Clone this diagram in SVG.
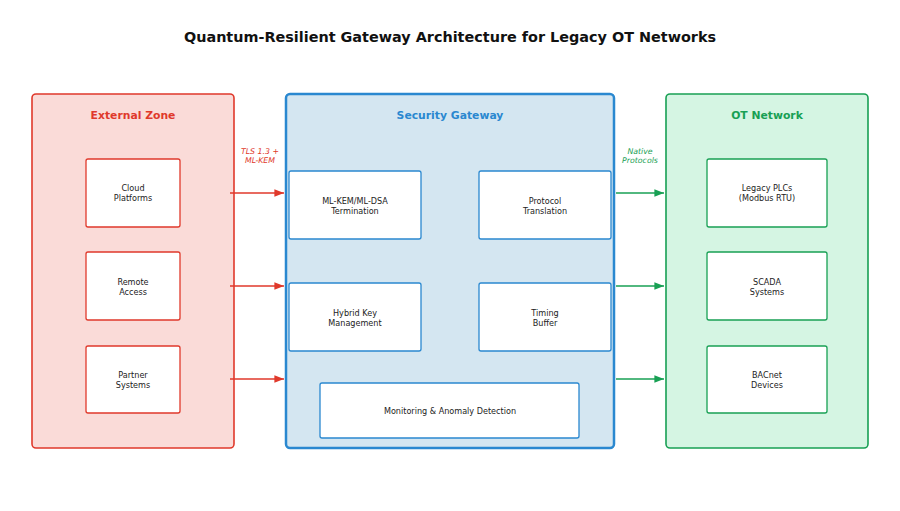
<svg xmlns="http://www.w3.org/2000/svg" width="900" height="511" viewBox="0 0 900 511">
<defs>
<style>
text{font-family:"DejaVu Sans",sans-serif;text-anchor:middle}
.title{font-size:14.4px;font-weight:bold;fill:#111}
.zt{font-size:10.8px;font-weight:bold}
.nt{font-size:8.1px;fill:#222}
.lbl{font-size:7.8px;font-style:italic}
.rn{fill:#fff;stroke:#e0392b;stroke-width:1.3}
.bn{fill:#fff;stroke:#2a88d0;stroke-width:1.3}
.gn{fill:#fff;stroke:#18a054;stroke-width:1.3}
</style>
<marker id="ar" viewBox="0 0 10 10" refX="10" refY="5" markerWidth="6" markerHeight="6" orient="auto"><path d="M0,1 L10,5 L0,9 z" fill="#e0392b"/></marker>
<marker id="ag" viewBox="0 0 10 10" refX="10" refY="5" markerWidth="6" markerHeight="6" orient="auto"><path d="M0,1 L10,5 L0,9 z" fill="#18a054"/></marker>
</defs>
<rect width="900" height="511" fill="#fff"/>
<text class="title" x="450" y="42">Quantum-Resilient Gateway Architecture for Legacy OT Networks</text>

<g id="external-zone">
<rect x="32" y="94" width="202" height="354" rx="4" fill="#fadbd8" stroke="#e0392b" stroke-width="1.6"/>
<text class="zt" x="133" y="119" fill="#e0392b">External Zone</text>
</g>
<g id="security-gateway">
<rect x="286" y="94" width="328" height="354" rx="4" fill="#d4e6f1" stroke="#2a88d0" stroke-width="2.5"/>
<text class="zt" x="450" y="119" fill="#2a88d0">Security Gateway</text>
</g>
<g id="ot-network">
<rect x="666" y="94" width="202" height="354" rx="4" fill="#d5f5e3" stroke="#18a054" stroke-width="1.6"/>
<text class="zt" x="767" y="119" fill="#18a054">OT Network</text>
</g>

<g id="cloud-platforms"><rect class="rn" x="86" y="159" width="94" height="68" rx="2"/><text class="nt" x="133" y="191">Cloud</text><text class="nt" x="133" y="201">Platforms</text></g>
<g id="remote-access"><rect class="rn" x="86" y="252" width="94" height="68" rx="2"/><text class="nt" x="133" y="285">Remote</text><text class="nt" x="133" y="295">Access</text></g>
<g id="partner-systems"><rect class="rn" x="86" y="346" width="94" height="67" rx="2"/><text class="nt" x="133" y="378">Partner</text><text class="nt" x="133" y="388">Systems</text></g>

<g id="mlkem-termination"><rect class="bn" x="289" y="171" width="132" height="68" rx="2"/><text class="nt" x="355" y="204">ML-KEM/ML-DSA</text><text class="nt" x="355" y="214">Termination</text></g>
<g id="protocol-translation"><rect class="bn" x="479" y="171" width="132" height="68" rx="2"/><text class="nt" x="545" y="204">Protocol</text><text class="nt" x="545" y="214">Translation</text></g>
<g id="hybrid-key"><rect class="bn" x="289" y="283" width="132" height="68" rx="2"/><text class="nt" x="355" y="316">Hybrid Key</text><text class="nt" x="355" y="326">Management</text></g>
<g id="timing-buffer"><rect class="bn" x="479" y="283" width="132" height="68" rx="2"/><text class="nt" x="545" y="316">Timing</text><text class="nt" x="545" y="326">Buffer</text></g>
<g id="monitoring"><rect class="bn" x="320" y="383" width="259" height="55" rx="2"/><text class="nt" x="450" y="414">Monitoring &amp; Anomaly Detection</text></g>

<g id="legacy-plcs"><rect class="gn" x="707" y="159" width="120" height="68" rx="2"/><text class="nt" x="767" y="191">Legacy PLCs</text><text class="nt" x="767" y="201">(Modbus RTU)</text></g>
<g id="scada"><rect class="gn" x="707" y="252" width="120" height="68" rx="2"/><text class="nt" x="767" y="285">SCADA</text><text class="nt" x="767" y="295">Systems</text></g>
<g id="bacnet"><rect class="gn" x="707" y="346" width="120" height="67" rx="2"/><text class="nt" x="767" y="378">BACnet</text><text class="nt" x="767" y="388">Devices</text></g>

<g id="connectors">
<g stroke="#e0392b" stroke-width="1.6" marker-end="url(#ar)">
<line x1="230" y1="193" x2="284" y2="193"/>
<line x1="230" y1="286" x2="284" y2="286"/>
<line x1="230" y1="379" x2="284" y2="379"/>
</g>
<g stroke="#18a054" stroke-width="1.6" marker-end="url(#ag)">
<line x1="616" y1="193" x2="664" y2="193"/>
<line x1="616" y1="286" x2="664" y2="286"/>
<line x1="616" y1="379" x2="664" y2="379"/>
</g>
<text class="lbl" x="260" y="154" fill="#e0392b">TLS 1.3 +</text>
<text class="lbl" x="260" y="163" fill="#e0392b">ML-KEM</text>
<text class="lbl" x="640" y="154" fill="#18a054">Native</text>
<text class="lbl" x="640" y="163" fill="#18a054">Protocols</text>
</g>
</svg>
